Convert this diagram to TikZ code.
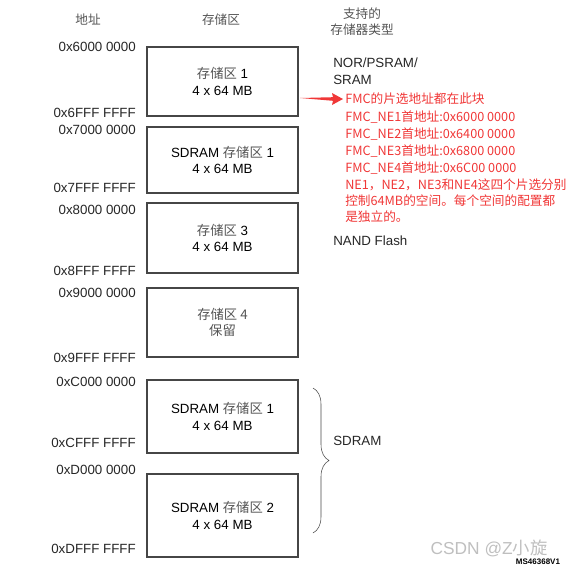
\documentclass[tikz,border=0pt]{standalone}
\usepackage{fontspec}
\setmainfont{Liberation Sans}
\newfontfamily\cjk{Noto Sans CJK SC}
\usetikzlibrary{calc,decorations.pathreplacing}
\definecolor{zhgray}{RGB}{85,85,85}
\definecolor{fmcred}{RGB}{240,55,55}
\definecolor{linegray}{RGB}{70,70,70}
\newcommand{\zhtext}[1]{{\cjk\color{zhgray}#1}}
\tikzset{
 bankbox/.style={draw=linegray, line width=0.8pt},
 banktext/.style={align=center, inner sep=0pt, font=\fontsize{10}{12.4}\selectfont},
 addr/.style={anchor=east, inner sep=0pt, text=black!85, font=\fontsize{10}{12}\selectfont},
 memtype/.style={anchor=west, inner sep=0pt, text=black!85, font=\fontsize{10}{12}\selectfont},
 fmcnote/.style={anchor=west, inner sep=0pt, text=fmcred, font=\cjk\fontsize{9.5}{12}\selectfont},
 head/.style={inner sep=0pt, align=center, text=zhgray, font=\cjk\fontsize{9.5}{12}\selectfont},
}
\begin{document}
\begin{tikzpicture}[x=0.75pt, y=-0.75pt]
\useasboundingbox (0,0) rectangle (567,572);
% column heads
\node[head] (hAddr) at (88,20) {地址};
\node[head] (hBank) at (221,20) {存储区};
\node[head] (hType) at (362,22) {支持的\\存储器类型};

% memory banks
\foreach \t/\b/\txt [count=\i] in {
 47/116/{\zhtext{存储区} 1\\4 x 64 MB},
 127/193/{SDRAM \zhtext{存储区} 1\\4 x 64 MB},
 203/273/{\zhtext{存储区} 3\\4 x 64 MB},
 288/357/{\zhtext{存储区 4}\\\zhtext{保留}},
 380/453/{SDRAM \zhtext{存储区} 1\\4 x 64 MB},
 474/557/{SDRAM \zhtext{存储区} 2\\4 x 64 MB}}
 \draw[bankbox] (147,\t) rectangle (298,\b) node[midway, banktext] (bank\i) {\txt};

% addresses
\foreach \y/\a [count=\i] in {47/0x6000 0000, 113/0x6FFF FFFF, 130/0x7000 0000, 188/0x7FFF FFFF,
 210/0x8000 0000, 271/0x8FFF FFFF, 293/0x9000 0000, 358/0x9FFF FFFF,
 382/0xC000 0000, 443/0xCFFF FFFF, 470/0xD000 0000, 549/0xDFFF FFFF}
 \node[addr] (addr\i) at (136,\y) {\a};

% memory types
\node[memtype] (norType) at (333,63) {NOR/PSRAM/};
\node[memtype] (sramType) at (333,80) {SRAM};
\node[memtype] (nandType) at (333,241) {NAND Flash};
\node[memtype] (sdramType) at (333,441) {SDRAM};

% red notes
\foreach \y/\txt [count=\i] in {99/FMC的片选地址都在此块, 117/FMC\_NE1首地址:0x6000 0000,
 134/FMC\_NE2首地址:0x6400 0000, 151/FMC\_NE3首地址:0x6800 0000, 168/FMC\_NE4首地址:0x6C00 0000,
 185/NE1，NE2，NE3和NE4这四个片选分别, 201/控制64MB的空间。每个空间的配置都, 217/是独立的。}
 \node[fmcnote] (fmc\i) at (345,\y) {\txt};

\coordinate (tail) at (300,98);
\fill[fmcred] (tail) -- ($(fmc1.west)+(-12,-1.8)$) -- ($(fmc1.west)+(-13,-6)$) -- ($(fmc1.west)+(-2,0)$)
 -- ($(fmc1.west)+(-13,6)$) -- ($(fmc1.west)+(-12,1.8)$) -- cycle;

% SDRAM brace
\draw[linegray, decorate, decoration={brace, amplitude=12pt}] (313,388) -- (313,533);

\node[text=gray!50, font=\fontsize{13}{15}\selectfont] (csdn) at (489,548) {CSDN @Z{\cjk 小旋}};
\node[inner sep=0pt, font=\bfseries\fontsize{6}{7}\selectfont] (msid) at (538,562) {MS46368V1};
\end{tikzpicture}
\end{document}
